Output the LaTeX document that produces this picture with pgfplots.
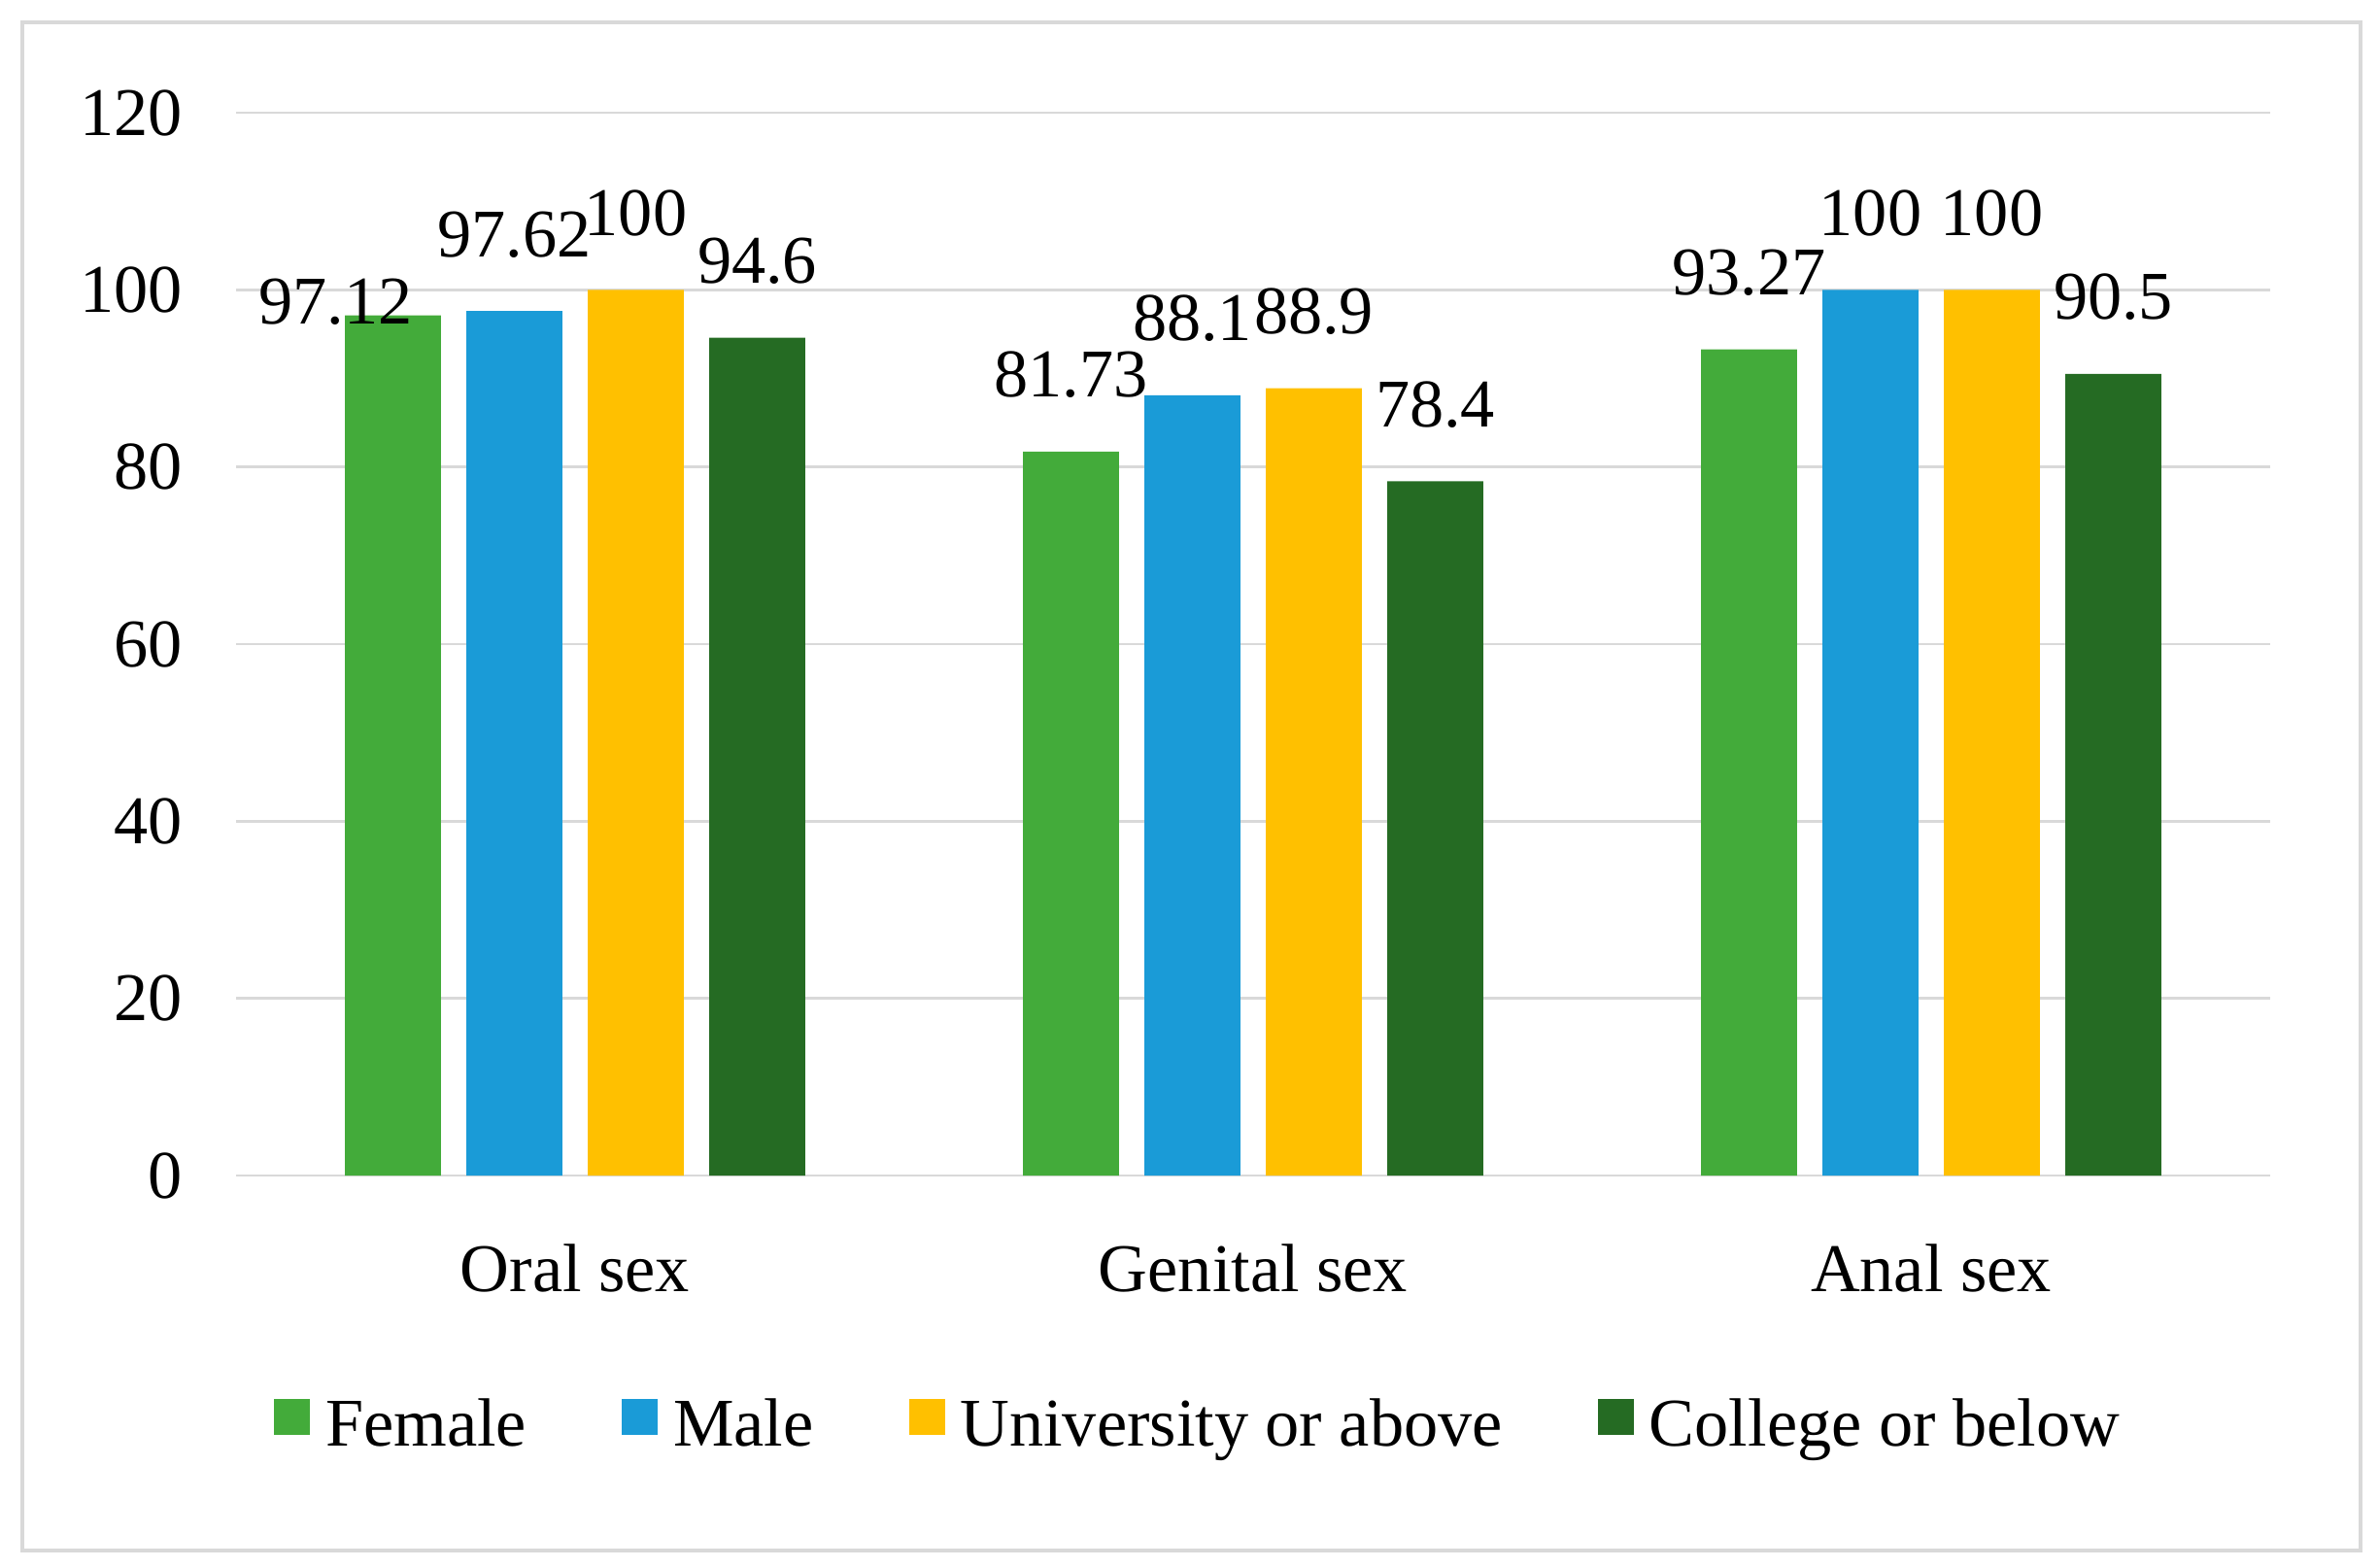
\documentclass[border=0pt]{standalone}
\usepackage{fontspec}
\setmainfont{Liberation Serif}
\usepackage{pgfplots}
\pgfplotsset{compat=1.18}

\definecolor{cFemale}{RGB}{67,171,58}
\definecolor{cMale}{RGB}{26,155,215}
\definecolor{cUni}{RGB}{255,192,0}
\definecolor{cCol}{RGB}{37,107,35}
\definecolor{gridgray}{RGB}{217,217,217}

\newcommand{\lblfont}{\fontsize{20}{24}\selectfont}

\begin{document}
\begin{tikzpicture}
% page extent and outer frame
\path (0,0) rectangle (24.49,16.13);
\draw[gridgray, line width=0.9pt] (0.23,0.17) rectangle (24.30,15.90);

\begin{axis}[
    at={(2.43cm,4.03cm)}, anchor=south west,
    scale only axis,
    width=20.94cm, height=10.94cm,
    ybar=0.264cm,
    bar width=0.986cm,
    xmin=-0.5, xmax=2.5,
    ymin=0, ymax=120,
    ytick={0,20,...,120},
    xtick={0,1,2},
    xticklabels={Oral sex, Genital sex, Anal sex},
    axis line style={draw=none},
    major tick length=0pt,
    ymajorgrids,
    grid style={gridgray, line width=0.8pt},
    /pgf/number format/assume math mode=true,
    ticklabel style={font=\lblfont},
    yticklabel style={xshift=-0.43cm},
    xticklabel style={anchor=base, yshift=-1.19cm},
    nodes near coords,
    nodes near coords style={font=\lblfont, anchor=base, yshift=0.56cm},
    legend style={draw=none, at={(0.474,-0.235)}, anchor=center,
        font=\lblfont, legend columns=4,
        /tikz/every even column/.append style={column sep=0.91cm}},
    legend image code/.code={\fill[#1] (0cm,-0.10cm) rectangle (0.37cm,0.27cm);
        \path (0.46cm,0cm);},
]
\addplot[fill=cFemale, draw=none,
    visualization depends on={value \thisrow{dx} \as \dx},
    visualization depends on={value \thisrow{dy} \as \dy},
    every node near coord/.append style={xshift=\dx cm, yshift=\dy cm}]
    table[x=x, y=y] {
x y dx dy
0 97.12 -0.59 -0.65
1 81.73 0 0
2 93.27 0 0
};
\addplot[fill=cMale, draw=none] coordinates {(0,97.62) (1,88.1) (2,100)};
\addplot[fill=cUni, draw=none] coordinates {(0,100) (1,88.9) (2,100)};
\addplot[fill=cCol, draw=none] coordinates {(0,94.6) (1,78.4) (2,90.5)};
\legend{Female, Male, University or above, College or below}
\end{axis}
\end{tikzpicture}
\end{document}
